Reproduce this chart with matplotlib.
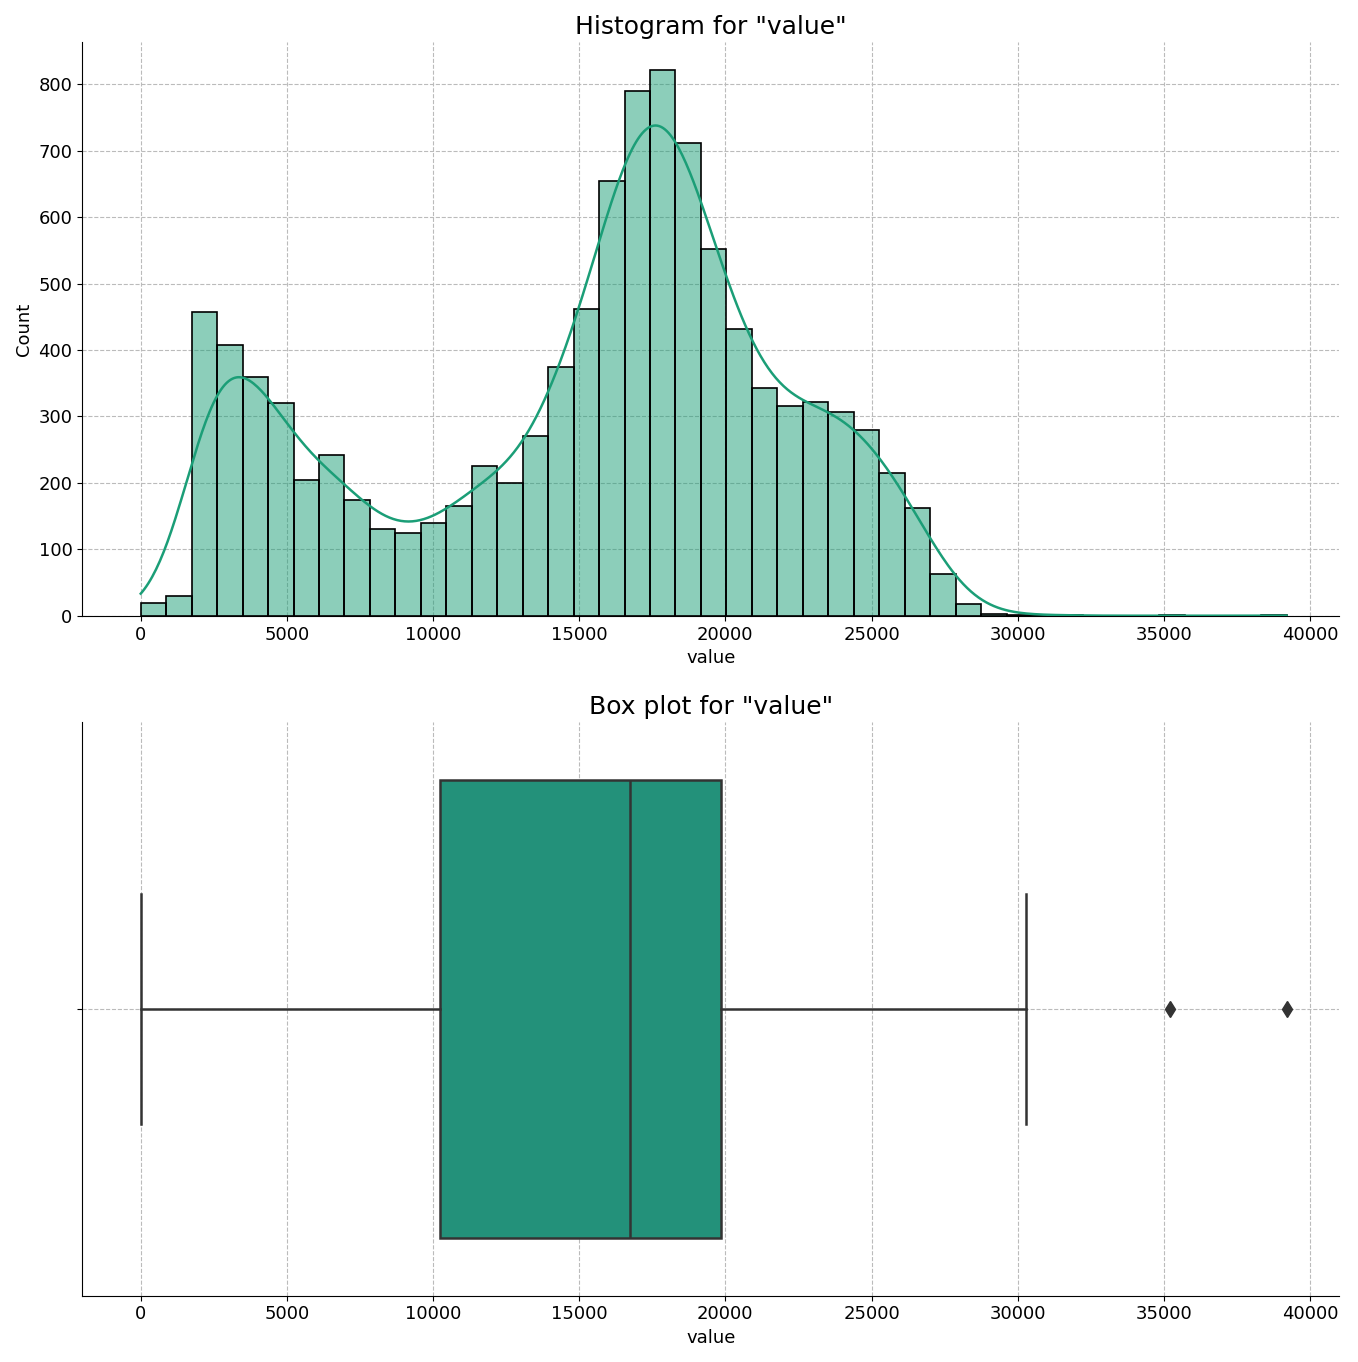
import numpy as np
import matplotlib.pyplot as plt

# histogram counts (45 equal bins from 0 to the max value)
bin_min = 0
bin_max = 39200
counts = [20, 30, 457, 408, 360, 320, 205, 242, 175, 130, 125, 140, 165, 225, 200,
          270, 375, 462, 655, 790, 822, 712, 552, 432, 343, 316, 322, 307, 279, 215,
          163, 63, 18, 3, 2, 1, 1, 0, 0, 0, 1, 0, 0, 0, 1]

# box plot statistics
whisker_low = 0
q1 = 10250
median = 16750
q3 = 19850
whisker_high = 30300
outliers = [35200, 39200]

green = '#1b9e77'
box_green = '#23917a'

edges = np.linspace(bin_min, bin_max, len(counts) + 1)
width = edges[1] - edges[0]
centers = edges[:-1] + width / 2
counts = np.array(counts, dtype=float)

# gaussian KDE from binned counts, scaled to counts
n = counts.sum()
mean = np.sum(centers * counts) / n
std = np.sqrt(np.sum(counts * (centers - mean) ** 2) / n)
bw = std * n ** (-0.2)
xs = np.linspace(bin_min, bin_max, 600)
dens = np.sum(counts[:, None] * np.exp(-0.5 * ((xs[None, :] - centers[:, None]) / bw) ** 2), axis=0)
dens = dens / (n * bw * np.sqrt(2 * np.pi)) * n * width

fig, (ax1, ax2) = plt.subplots(2, 1, figsize=(13.58, 13.62), dpi=100)

ax1.bar(edges[:-1], counts, width=width, align='edge', color=green, alpha=0.5,
        edgecolor='none', zorder=2)
ax1.bar(edges[:-1], counts, width=width, align='edge', fill=False,
        edgecolor='black', linewidth=1.2, zorder=3)
ax1.plot(xs, dens, color=green, linewidth=1.8, zorder=4)
ax1.set_title('Histogram for "value"', fontsize=18)
ax1.set_xlabel('value', fontsize=13)
ax1.set_ylabel('Count', fontsize=13)

stats = [dict(med=median, q1=q1, q3=q3, whislo=whisker_low, whishi=whisker_high,
              fliers=outliers)]
ax2.bxp(stats, vert=False, widths=0.8, patch_artist=True,
        boxprops=dict(facecolor=box_green, edgecolor='#333333', linewidth=1.8),
        medianprops=dict(color='#333333', linewidth=1.8),
        whiskerprops=dict(color='#333333', linewidth=1.8),
        capprops=dict(color='#333333', linewidth=1.8),
        flierprops=dict(marker='d', markerfacecolor='#333333', markeredgecolor='#333333',
                        markersize=8))
ax2.set_ylim(1.5, 0.5)
ax2.set_yticks([1])
ax2.set_yticklabels([''])
ax2.set_title('Box plot for "value"', fontsize=18)
ax2.set_xlabel('value', fontsize=13)

for ax in (ax1, ax2):
    ax.set_xlim(-2000, 41000)
    ax.set_xticks(np.arange(0, 40001, 5000))
    ax.tick_params(labelsize=13)
    ax.grid(True, linestyle='--', color='#bbbbbb', linewidth=0.8, zorder=0)
    ax.set_axisbelow(True)
    ax.spines['top'].set_visible(False)
    ax.spines['right'].set_visible(False)

plt.tight_layout(h_pad=2)
plt.savefig('out.png')
